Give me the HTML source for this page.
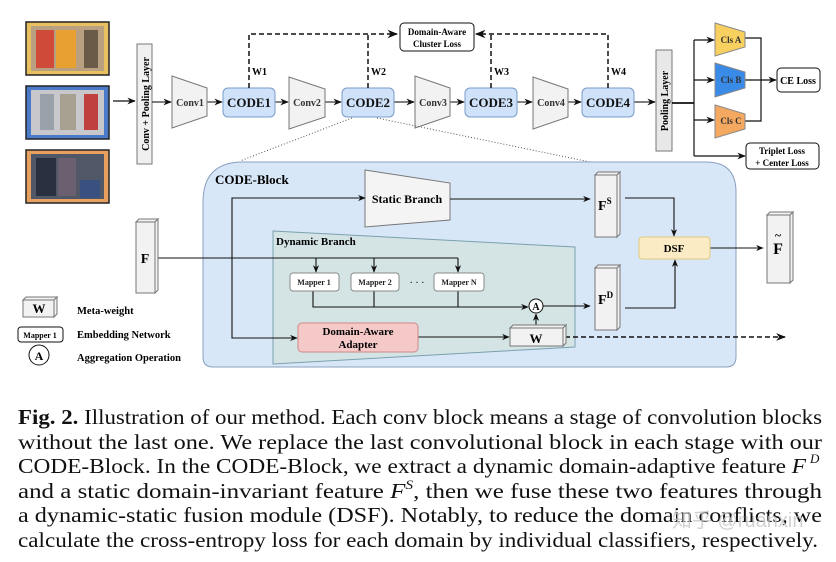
<!DOCTYPE html>
<html><head><meta charset="utf-8"><style>
html,body{margin:0;padding:0;background:#fff;}
svg{display:block;font-family:"Liberation Serif",serif;}
</style></head><body>
<svg width="836" height="562" viewBox="0 0 836 562" xmlns="http://www.w3.org/2000/svg">
<defs>
<marker id="ar" viewBox="0 0 10 10" refX="9" refY="5" markerWidth="7" markerHeight="7" orient="auto-start-reverse"><path d="M0,1 L10,5 L0,9 L3,5 z" fill="#111"/></marker>
</defs>
<rect width="836" height="562" fill="#fff"/>
<rect x="26" y="22" width="83" height="53" fill="#e8c060" stroke="#222" stroke-width="1.5"/>
<rect x="31" y="26" width="73" height="45" fill="#b8a080"/>
<rect x="36" y="30" width="18" height="38" fill="#d04a3a"/><rect x="56" y="30" width="20" height="38" fill="#e8a030"/><rect x="84" y="30" width="14" height="38" fill="#6a5a48"/>
<rect x="26" y="86" width="83" height="53" fill="#4a7ac8" stroke="#222" stroke-width="1.5"/>
<rect x="31" y="90" width="73" height="45" fill="#c8c8cc"/>
<rect x="40" y="94" width="14" height="36" fill="#9aa0aa"/><rect x="60" y="94" width="16" height="36" fill="#a8a090"/><rect x="84" y="94" width="14" height="36" fill="#c04040"/>
<rect x="26" y="150" width="83" height="53" fill="#e8a060" stroke="#222" stroke-width="1.5"/>
<rect x="31" y="154" width="73" height="45" fill="#505868"/>
<rect x="36" y="158" width="20" height="38" fill="#2a3040"/><rect x="58" y="158" width="18" height="38" fill="#6a6070"/><rect x="80" y="180" width="20" height="18" fill="#3a5080"/>
<line x1="113" y1="101" x2="135" y2="101" stroke="#111" stroke-width="1.2" marker-end="url(#ar)"/>
<rect x="137" y="44" width="15" height="120" fill="#f0f0f0" stroke="#777"/>
<text transform="translate(149,104) rotate(-90)" text-anchor="middle" font-size="10" font-weight="bold">Conv + Pooling Layer</text>
<g stroke="#333" stroke-width="1.2" fill="none">
<line x1="152" y1="102" x2="171" y2="102" marker-end="url(#ar)"/>
<line x1="207" y1="102" x2="222" y2="102" marker-end="url(#ar)"/>
<line x1="275" y1="102" x2="288" y2="102" marker-end="url(#ar)"/>
<line x1="325" y1="102" x2="341" y2="102" marker-end="url(#ar)"/>
<line x1="394" y1="102" x2="414" y2="102" marker-end="url(#ar)"/>
<line x1="450" y1="102" x2="464" y2="102" marker-end="url(#ar)"/>
<line x1="517" y1="102" x2="532" y2="102" marker-end="url(#ar)"/>
<line x1="568" y1="102" x2="581" y2="102" marker-end="url(#ar)"/>
<line x1="634" y1="102" x2="655" y2="102" marker-end="url(#ar)"/>
</g>
<g fill="#f2f2f2" stroke="#777">
<polygon points="172,76 207,88 207,116 172,128"/>
<polygon points="289,77 325,89 325,117 289,129"/>
<polygon points="415,76 450,88 450,116 415,128"/>
<polygon points="533,77 568,89 568,117 533,129"/>
</g>
<g font-size="10" font-weight="bold" text-anchor="middle" fill="#333">
<text x="190" y="106">Conv1</text><text x="307" y="106">Conv2</text><text x="433" y="106">Conv3</text><text x="551" y="106">Conv4</text>
</g>
<g fill="#cfe2f9" stroke="#7a9cc8">
<rect x="223" y="88" width="52" height="29" rx="5"/><rect x="342" y="88" width="52" height="29" rx="5"/>
<rect x="465" y="88" width="52" height="29" rx="5"/><rect x="582" y="88" width="52" height="29" rx="5"/>
</g>
<g font-size="13" font-weight="bold" text-anchor="middle" fill="#111">
<text x="249" y="107">CODE1</text><text x="368" y="107">CODE2</text><text x="491" y="107">CODE3</text><text x="608" y="107">CODE4</text>
</g>
<g stroke="#111" stroke-width="1.5" stroke-dasharray="5,3" fill="none">
<polyline points="249,88 249,34 397,34" marker-end="url(#ar)"/>
<line x1="368" y1="88" x2="368" y2="34"/>
<polyline points="608,88 608,34 476,34" marker-end="url(#ar)"/>
<line x1="491" y1="88" x2="491" y2="34"/>
</g>
<g font-size="10" font-weight="bold"><text x="252" y="75">W1</text><text x="371" y="75">W2</text><text x="494" y="75">W3</text><text x="611" y="75">W4</text></g>
<rect x="400" y="23" width="74" height="28" rx="4" fill="#fff" stroke="#111"/>
<text x="437" y="35" font-size="9" font-weight="bold" text-anchor="middle">Domain-Aware</text>
<text x="437" y="47" font-size="9" font-weight="bold" text-anchor="middle">Cluster Loss</text>
<rect x="656" y="50" width="16" height="101" fill="#e8e8e8" stroke="#777"/>
<text transform="translate(668,101) rotate(-90)" text-anchor="middle" font-size="10" font-weight="bold">Pooling  Layer</text>
<g stroke="#111" stroke-width="1.2" fill="none">
<line x1="672" y1="103" x2="694" y2="103" stroke-width="1.8"/>
<line x1="694" y1="40" x2="694" y2="156"/>
<line x1="694" y1="40" x2="714" y2="40" marker-end="url(#ar)"/>
<line x1="694" y1="80" x2="714" y2="80" marker-end="url(#ar)"/>
<line x1="694" y1="120" x2="714" y2="120" marker-end="url(#ar)"/>
<line x1="694" y1="156" x2="745" y2="156" marker-end="url(#ar)"/>
<polyline points="745,38 761,38 761,121 745,121"/>
<line x1="745" y1="80" x2="776" y2="80" marker-end="url(#ar)"/>
</g>
<polygon points="715,23 745,32 745,47 715,56" fill="#f8d060" stroke="#888"/>
<polygon points="715,63 745,72 745,88 715,97" fill="#3a8ae8" stroke="#888"/>
<polygon points="715,105 745,114 745,129 715,138" fill="#f4a860" stroke="#888"/>
<g font-size="9" font-weight="bold" text-anchor="middle" fill="#333"><text x="731" y="43">Cls A</text><text x="731" y="83">Cls B</text><text x="731" y="124">Cls C</text></g>
<rect x="777" y="68" width="43" height="24" rx="4" fill="#fff" stroke="#111"/>
<text x="798" y="84" font-size="10" font-weight="bold" text-anchor="middle">CE Loss</text>
<rect x="746" y="143" width="73" height="26" rx="4" fill="#fff" stroke="#111"/>
<text x="782" y="154" font-size="9" font-weight="bold" text-anchor="middle">Triplet Loss</text>
<text x="782" y="166" font-size="9" font-weight="bold" text-anchor="middle">+ Center Loss</text>
<line x1="352" y1="118" x2="240" y2="161" stroke="#555" stroke-dasharray="1,2"/>
<line x1="377" y1="118" x2="595" y2="163" stroke="#555" stroke-dasharray="1,2"/>
<path d="M243,162 H706 Q736,162 736,192 V357 Q736,367 726,367 H213 Q203,367 203,357 V202 Q203,162 243,162 Z" fill="#d8e7f8" stroke="#8aa0c0"/>
<text x="215" y="184" font-size="13" font-weight="bold">CODE-Block</text>
<polygon points="365,170 450,183 450,220 365,227" fill="#f4f4f4" stroke="#777"/>
<text x="407" y="203" font-size="12" font-weight="bold" text-anchor="middle">Static Branch</text>
<polygon points="273,231 575,247 575,347 273,364" fill="#d4e3e3" stroke="#7aa0b0"/>
<text x="276" y="245" font-size="11" font-weight="bold">Dynamic Branch</text>
<g stroke="#111" stroke-width="1.1" fill="none">
<polyline points="365,198 232,198 232,338 297,338" marker-start="url(#ar)" marker-end="url(#ar)"/>
<line x1="450" y1="199" x2="590" y2="199" marker-end="url(#ar)"/>
<polyline points="625,198 674,198 674,236" marker-end="url(#ar)"/>
<polyline points="625,308 675,308 675,260" marker-end="url(#ar)"/>
<line x1="710" y1="248" x2="763" y2="248" marker-end="url(#ar)"/>
<line x1="158" y1="258" x2="458" y2="258"/>
<line x1="316" y1="258" x2="316" y2="272" marker-end="url(#ar)"/>
<line x1="374" y1="258" x2="374" y2="272" marker-end="url(#ar)"/>
<line x1="458" y1="258" x2="458" y2="272" marker-end="url(#ar)"/>
<polyline points="313,291 313,307 528,307" marker-end="url(#ar)"/>
<line x1="374" y1="291" x2="374" y2="307"/>
<line x1="458" y1="291" x2="458" y2="307"/>
<line x1="543" y1="306" x2="590" y2="306" marker-end="url(#ar)"/>
<line x1="418" y1="337" x2="509" y2="337" marker-end="url(#ar)"/>
<line x1="536" y1="326" x2="536" y2="314" marker-end="url(#ar)"/>
<line x1="565" y1="337" x2="785" y2="337" stroke-dasharray="5,3" stroke-width="1.4" marker-end="url(#ar)"/>
</g>
<g fill="#fff" stroke="#888">
<rect x="290" y="273" width="49" height="18" rx="3"/><rect x="351" y="273" width="48" height="18" rx="3"/><rect x="434" y="273" width="50" height="18" rx="3"/>
</g>
<g font-size="8" font-weight="bold" text-anchor="middle" fill="#222"><text x="314" y="285">Mapper 1</text><text x="375" y="285">Mapper 2</text><text x="459" y="285">Mapper N</text></g>
<text x="417" y="286" font-size="10" text-anchor="middle">· · ·</text>
<circle cx="536" cy="306" r="7" fill="#fff" stroke="#111"/>
<text x="536" y="310" font-size="10" font-weight="bold" text-anchor="middle">A</text>
<rect x="298" y="323" width="120" height="29" rx="4" fill="#f6c9c9" stroke="#d08888"/>
<text x="358" y="335" font-size="11" font-weight="bold" text-anchor="middle">Domain-Aware</text>
<text x="358" y="348" font-size="11" font-weight="bold" text-anchor="middle">Adapter</text>
<g fill="#f2f2f2" stroke="#777">
<polygon points="510,328 513,325 566,325 563,328"/><polygon points="563,328 566,325 566,343 563,346"/><rect x="510" y="328" width="53" height="18"/>
<polygon points="595,175 598,172 620,172 617,175"/><polygon points="617,175 620,172 620,234 617,237"/><rect x="595" y="175" width="22" height="62"/>
<polygon points="595,268 598,265 620,265 617,268"/><polygon points="617,268 620,265 620,327 617,330"/><rect x="595" y="268" width="22" height="62"/>
<polygon points="767,215 770,212 793,212 790,215"/><polygon points="790,215 793,212 793,280 790,283"/><rect x="767" y="215" width="23" height="68"/>
<polygon points="136,222 139,219 158,219 155,222"/><polygon points="155,222 158,219 158,290 155,293"/><rect x="136" y="222" width="19" height="71"/>
<polygon points="23,300 26,297 57,297 54,300"/><polygon points="54,300 57,297 57,314 54,317"/><rect x="23" y="300" width="31" height="17"/>
</g>
<text x="536" y="343" font-size="13" font-weight="bold" text-anchor="middle">W</text>
<text x="39" y="313" font-size="13" font-weight="bold" text-anchor="middle">W</text>
<text x="145" y="263" font-size="14" font-weight="bold" text-anchor="middle">F</text>
<text x="598" y="210" font-size="14" font-weight="bold">F<tspan font-size="9" dy="-6">S</tspan></text>
<text x="598" y="304" font-size="14" font-weight="bold">F<tspan font-size="9" dy="-6">D</tspan></text>
<text x="778" y="254" font-size="16" font-weight="bold" text-anchor="middle">F</text>
<text x="778" y="239" font-size="12" font-weight="bold" text-anchor="middle">~</text>
<rect x="639" y="237" width="71" height="22" rx="3" fill="#fbebc5" stroke="#e0c880"/>
<text x="674" y="252" font-size="11" font-weight="bold" text-anchor="middle">DSF</text>
<rect x="18" y="327" width="45" height="15" rx="3" fill="#fff" stroke="#111"/>
<text x="40" y="338" font-size="8" font-weight="bold" text-anchor="middle">Mapper 1</text>
<circle cx="39" cy="355" r="10" fill="#fff" stroke="#111"/>
<text x="39" y="360" font-size="12" font-weight="bold" text-anchor="middle">A</text>
<g font-size="10.5" font-weight="bold"><text x="77" y="314">Meta-weight</text><text x="77" y="338">Embedding Network</text><text x="77" y="361">Aggregation Operation</text></g>
<g font-size="21" fill="#111">
<text x="18" y="424" textLength="804" lengthAdjust="spacingAndGlyphs"><tspan font-weight="bold">Fig. 2.</tspan> Illustration of our method. Each conv block means a stage of convolution blocks</text>
<text x="18" y="449" textLength="804" lengthAdjust="spacingAndGlyphs">without the last one. We replace the last convolutional block in each stage with our</text>
<text x="18" y="473" textLength="788" lengthAdjust="spacingAndGlyphs">CODE-Block. In the CODE-Block, we extract a dynamic domain-adaptive feature <tspan font-style="italic">F</tspan></text>
<text x="810" y="463" font-size="13" font-style="italic">D</text>
<text x="18" y="498" textLength="804" lengthAdjust="spacingAndGlyphs">and a static domain-invariant feature <tspan font-style="italic">F</tspan><tspan font-size="13" font-style="italic" dy="-9">S</tspan><tspan dy="9">, then we fuse these two features through</tspan></text>
<text x="18" y="522" textLength="804" lengthAdjust="spacingAndGlyphs">a dynamic-static fusion module (DSF). Notably, to reduce the domain conflicts, we</text>
<text x="18" y="547" textLength="800" lengthAdjust="spacingAndGlyphs">calculate the cross-entropy loss for each domain by individual classifiers, respectively.</text>
</g>
<text x="672" y="527" font-size="20" fill="#c8c8c8" font-family="'Liberation Sans','Noto Sans CJK SC',sans-serif" opacity="0.8">知乎 @ruanxin</text>
</svg>
</body></html>
